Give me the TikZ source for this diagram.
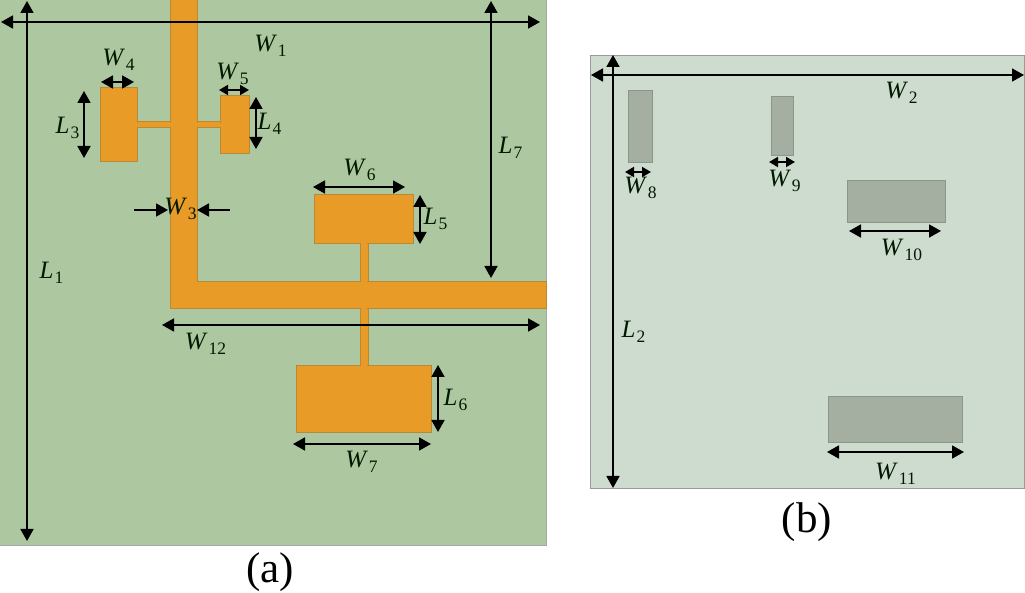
\documentclass[tikz,border=0pt]{standalone}
\usepackage{fontspec}
\setmainfont{Liberation Serif}
\usetikzlibrary{arrows.meta}
\definecolor{subA}{HTML}{ADC8A1}
\definecolor{subB}{HTML}{CDDCCE}
\definecolor{metal}{HTML}{E89B26}
\definecolor{metaledge}{HTML}{B98A35}
\definecolor{slot}{HTML}{A5AFA1}
\newcommand{\dimlbl}[2]{\textit{#1}\kern0.5pt\raisebox{-0.5pt}{\textsubscript{#2}}}
\tikzset{
    dimarrow/.style={<->,>={Triangle[length=6pt,width=6.5pt]},line width=0.9pt,black},
    smallarrow/.style={<->,>={Triangle[length=4.5pt,width=5pt]},line width=0.9pt,black},
    inarrow/.style={->,>={Triangle[length=6pt,width=6.5pt]},line width=0.9pt,black},
    dimlabel/.style={font=\fontsize{12.5}{14}\selectfont,inner sep=0pt,text=black!90!green},
    caption/.style={font=\fontsize{21.5}{24}\selectfont,inner sep=0pt},
    strip/.style={fill=metal,draw=metaledge,line width=0.5pt},
    slotbox/.style={fill=slot,draw=slot!85!black,line width=0.3pt}
}
\begin{document}
\begin{tikzpicture}[x=0.5pt,y=-0.5pt]
    \useasboundingbox (0,0) rectangle (1025,593);

%substrates
    \fill[subA] (0,0) rectangle (546,545);
    \draw[gray!70,line width=0.3pt] (546,0) -- (546,545) -- (0,545);
    \draw[fill=subB,draw=gray!80,line width=0.3pt] (590,55) rectangle (1024,488);

%feed line and stubs
    \draw[strip] (137,122) rectangle (170,128);
    \draw[strip] (197,122) rectangle (220,128);
    \draw[strip] (360,244) rectangle (368,282);
    \draw[strip] (360,309) rectangle (368,366);
    \draw[strip] (170,0) -- (197,0) -- (197,282) -- (546,282) -- (546,309) -- (170,309) -- cycle;
    \fill[metal] (136,123) rectangle (171,127);
    \fill[metal] (196,123) rectangle (221,127);
    \fill[metal] (361,243) rectangle (367,283);
    \fill[metal] (361,308) rectangle (367,367);

%patches
    \draw[strip] (100,88) rectangle (137,162);
    \draw[strip] (220,96) rectangle (249,154);
    \draw[strip] (314,195) rectangle (413,244);
    \draw[strip] (296,366) rectangle (431,433);
    \fill[metal] (136,123) rectangle (138,127);
    \fill[metal] (219,123) rectangle (221,127);
    \fill[metal] (361,243) rectangle (367,245);
    \fill[metal] (361,365) rectangle (367,367);

%ground slots
    \draw[slotbox] (628,90) rectangle (652,162);
    \draw[slotbox] (771,96) rectangle (793,155);
    \draw[slotbox] (847,180) rectangle (945,222);
    \draw[slotbox] (828,396) rectangle (962,442);

%arrows (a)
    \draw[dimarrow] (1,22) -- (540,22);
    \draw[dimarrow] (27,1) -- (27,541);
    \draw[dimarrow] (491,1) -- (491,278);
    \draw[dimarrow] (162,325) -- (540,325);
    \draw[dimarrow] (293,444) -- (431,444);
    \draw[dimarrow] (438,365) -- (438,432);
    \draw[dimarrow] (313,187) -- (405,187);
    \draw[dimarrow] (420,195) -- (420,244);
    \draw[dimarrow] (84,91) -- (84,158);
    \draw[dimarrow] (256,97) -- (256,149);
    \draw[dimarrow] (101,82) -- (134,82);
    \draw[smallarrow] (219,90) -- (249,90);
    \draw[inarrow] (134,210) -- (168,210);
    \draw[inarrow] (230,210) -- (197,210);

%arrows (b)
    \draw[dimarrow] (591,75) -- (1024,75);
    \draw[dimarrow] (613,55) -- (613,488);
    \draw[smallarrow] (625,172) -- (651,172);
    \draw[smallarrow] (769,162) -- (795,162);
    \draw[dimarrow] (849,231) -- (941,231);
    \draw[dimarrow] (827,452) -- (964,452);

%labels
    \node[dimlabel] (w1) at (271,46) {\dimlbl{W}{1}};
    \node[dimlabel] (w4) at (119,60) {\dimlbl{W}{4}};
    \node[dimlabel] (w5) at (233,74) {\dimlbl{W}{5}};
    \node[dimlabel] (l3) at (68,128) {\dimlbl{L}{3}};
    \node[dimlabel] (l4) at (270,124) {\dimlbl{L}{4}};
    \node[dimlabel] (w3) at (181,209) {\dimlbl{W}{3}};
    \node[dimlabel] (w6) at (360,170) {\dimlbl{W}{6}};
    \node[dimlabel] (l5) at (436,219) {\dimlbl{L}{5}};
    \node[dimlabel] (l7) at (511,148) {\dimlbl{L}{7}};
    \node[dimlabel] (l1) at (52,273) {\dimlbl{L}{1}};
    \node[dimlabel] (w12) at (206,344) {\dimlbl{W}{12}};
    \node[dimlabel] (l6) at (456,400) {\dimlbl{L}{6}};
    \node[dimlabel] (w7) at (362,462) {\dimlbl{W}{7}};
    \node[dimlabel] (w2) at (902,93) {\dimlbl{W}{2}};
    \node[dimlabel] (w8) at (641,188) {\dimlbl{W}{8}};
    \node[dimlabel] (w9) at (785,181) {\dimlbl{W}{9}};
    \node[dimlabel] (w10) at (902,250) {\dimlbl{W}{10}};
    \node[dimlabel] (w11) at (896,474) {\dimlbl{W}{11}};
    \node[dimlabel] (l2) at (634,332) {\dimlbl{L}{2}};

    \node[caption] (capa) at (270,572) {(a)};
    \node[caption] (capb) at (807,522) {(b)};
\end{tikzpicture}
\end{document}
